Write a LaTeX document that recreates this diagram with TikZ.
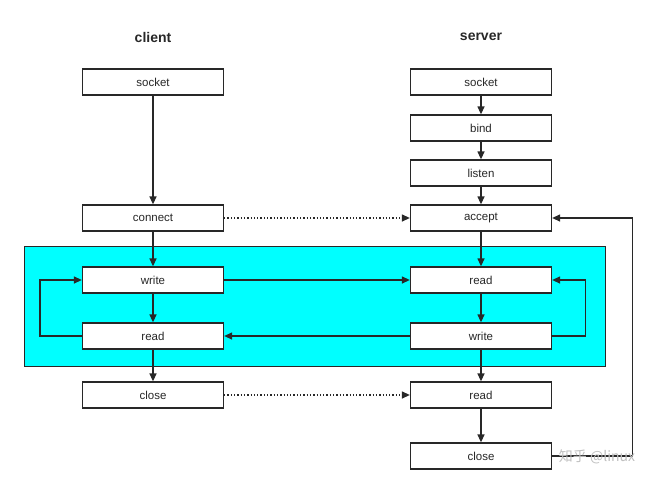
\documentclass[tikz,border=0pt]{standalone}
\usepackage{fontspec}
\setmainfont{Liberation Sans}
\newfontfamily\cjk{Noto Sans CJK SC}
\usetikzlibrary{arrows.meta}
\definecolor{aqua}{RGB}{0,255,255}
\definecolor{ink}{RGB}{40,40,40}
\begin{document}
\begin{tikzpicture}[x=1pt,y=-1pt,
  box/.style={draw=ink,fill=white,line width=1.3pt,minimum width=141pt,minimum height=26pt,inner sep=0pt,font=\fontsize{11.5}{13}\selectfont,text=ink},
  arr/.style={draw=ink,line width=1.3pt,-{Triangle[length=8pt,width=7pt]}},
  dot/.style={arr,dotted}]
\useasboundingbox (0,0) rectangle (670,485);
\fill[white] (0,0) rectangle (670,485);
\draw[fill=aqua,draw=ink,line width=1pt] (24,246) rectangle (605,366);
\node[font=\bfseries\fontsize{14}{16}\selectfont,text=ink] (tc) at (153,37) {client};
\node[font=\bfseries\fontsize{14}{16}\selectfont,text=ink] (ts) at (481,37) {server};
\node[box] (cs) at (153,82) {socket};
\node[box] (cc) at (153,218) {connect};
\node[box] (cw) at (153,280) {write};
\node[box] (cr) at (153,336) {read};
\node[box] (cx) at (153,395) {close};
\node[box] (ss) at (481,82) {socket};
\node[box] (sb) at (481,128) {bind};
\node[box] (sl) at (481,173) {listen};
\node[box] (sa) at (481,218) {accept};
\node[box] (sr) at (481,280) {read};
\node[box] (sw) at (481,336) {write};
\node[box] (sr2) at (481,395) {read};
\node[box] (sx) at (481,456) {close};
\draw[arr] (cs) -- (cc);
\draw[arr] (cc) -- (cw);
\draw[arr] (cw) -- (cr);
\draw[arr] (cr) -- (cx);
\draw[arr] (ss) -- (sb);
\draw[arr] (sb) -- (sl);
\draw[arr] (sl) -- (sa);
\draw[arr] (sa) -- (sr);
\draw[arr] (sr) -- (sw);
\draw[arr] (sw) -- (sr2);
\draw[arr] (sr2) -- (sx);
\draw[dot] (cc) -- (sa);
\draw[dot] (cx) -- (sr2);
\draw[arr] (cw) -- (sr);
\draw[arr] (sw) -- (cr);
\draw[arr] (cr.west) -- ++(-42,0) |- (cw.west);
\draw[arr] (sw.east) -- ++(33,0) |- (sr.east);
\draw[arr] (sx.east) -- ++(80,0) |- (sa.east);
\node[font=\cjk\fontsize{14}{16}\selectfont,text=black!25] (wm) at (597,457) {知乎 @linux};
\end{tikzpicture}
\end{document}
